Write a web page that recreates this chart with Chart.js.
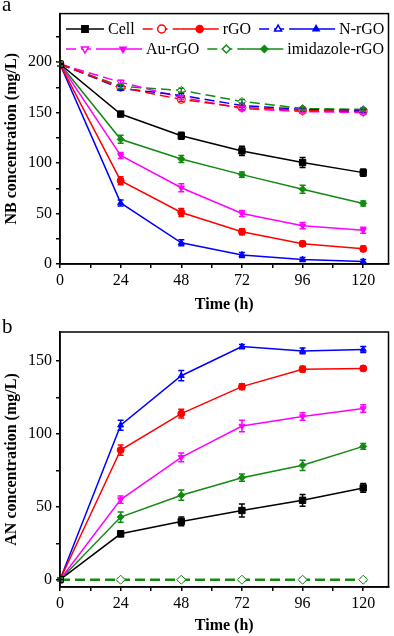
<!DOCTYPE html>
<html>
<head>
<meta charset="utf-8">
<script src="https://cdn.jsdelivr.net/npm/chart.js@4"></script>
<style>
body{margin:0;background:#fff;width:394px;height:636px;position:relative;overflow:hidden;font-family:'Liberation Serif',serif}
.box{position:absolute;left:0;width:394px;height:318px}
.lab{position:absolute;left:2px;font-size:21px;line-height:24px;color:#000}
</style>
</head>
<body>
<div class="box" style="top:0"><canvas id="chartA"></canvas></div>
<div class="box" style="top:318px"><canvas id="chartB"></canvas></div>
<div class="lab" style="top:-8px">a</div>
<div class="lab" style="top:314px">b</div>
<script>
// sampling times (h)
const hours = [0, 24, 48, 72, 96, 120];
const xTicks = [0, 12, 24, 36, 48, 60, 72, 84, 96, 108, 120];
const yTicksA = [0, 25, 50, 75, 100, 125, 150, 175, 200, 225];
const yTicksB = [0, 25, 50, 75, 100, 125, 150];

// a: NB concentration (mg/L)
const nbCell   = [198, 148.5, 127, 112, 100.5, 90.5];
const nbRGO    = [198, 82.5, 51, 32, 20, 15];
const nbNRGO   = [198, 60.5, 21, 9, 4.5, 2.5];
const nbAuRGO  = [198, 107.5, 75.5, 50, 38, 33.5];
const nbImRGO  = [198, 123.5, 104, 88.5, 74, 60];
const nbRGOc   = [198, 175, 163, 155, 152, 151];
const nbNRGOc  = [198, 174, 167, 157, 153, 152];
const nbAuRGOc = [198, 180, 165, 154, 151, 150];
const nbImRGOc = [198, 176, 172, 161, 154, 153];

const nbCellErr  = [2, 2.5, 3.5, 4.5, 5, 3.5];
const nbRGOErr   = [2, 4, 4, 3, 2.5, 2.5];
const nbNRGOErr  = [2, 3, 3, 2.5, 2, 2];
const nbAuRGOErr = [2, 3, 4, 3, 3, 3];
const nbImRGOErr = [2, 4, 3.5, 2.5, 4, 2.5];
const nbCtrlErr  = [2, 2, 2, 2, 1.5, 1.5];

// b: AN concentration (mg/L)
const anCell   = [0, 31.5, 40, 47.5, 54.5, 63];
const anRGO    = [0, 89, 114, 132.5, 144.5, 145];
const anNRGO   = [0, 106, 140, 160, 157, 158];
const anAuRGO  = [0, 55, 84, 105.5, 112, 117.5];
const anImRGO  = [0, 43, 58, 70, 78.5, 91.5];
const anCtrl   = [0, 0, 0, 0, 0, 0];

const anCellErr  = [1, 2, 3, 4.5, 4, 3];
const anRGOErr   = [1, 3.5, 3, 2, 2, 1.5];
const anNRGOErr  = [1, 3.5, 3.5, 1.5, 2, 2];
const anAuRGOErr = [1, 2.5, 3, 4, 2.5, 2.5];
const anImRGOErr = [1, 3.5, 3.5, 2.5, 3.5, 2];
const anCtrlErr  = [0, 0, 0, 0, 0, 0];

const BLACK = '#000000', RED = '#ff0000', BLUE = '#0000ff', MAG = '#ff00ff', GREEN = '#128a12';
const FONT = "'Liberation Serif', 'Times New Roman', serif";
Chart.defaults.font.family = FONT;
Chart.defaults.color = '#000';

function pts(vals) {
  return vals.map((v, i) => ({x: hours[i], y: v}));
}
function solid(label, vals, err, color, style, rot) {
  return {
    label: label, data: pts(vals), errors: err, order: 1,
    borderColor: color, backgroundColor: color,
    borderWidth: 1.5, pointStyle: style, pointRotation: rot || 0,
    pointRadius: style === 'rect' ? 4.5 : 3.5, pointBorderWidth: 1,
    pointBackgroundColor: color, pointBorderColor: color, tension: 0
  };
}
function ctrl(vals, err, color, style, rot, order, radius, width) {
  return {
    label: '', data: pts(vals), errors: err, order: order || 2,
    borderColor: color, backgroundColor: '#fff',
    borderWidth: width || 1.5, borderDash: [10, 5], pointStyle: style, pointRotation: rot || 0,
    pointRadius: radius || 4, pointBorderWidth: 1,
    pointBackgroundColor: '#fff', pointBorderColor: color, tension: 0
  };
}

// error bars drawn through the chart scales
const errorBars = {
  id: 'errorBars',
  afterDatasetsDraw(chart) {
    const ctx = chart.ctx, xs = chart.scales.x, ys = chart.scales.y;
    ctx.save();
    chart.data.datasets.forEach(ds => {
      if (!ds.errors) return;
      ctx.strokeStyle = ds.borderColor;
      ctx.lineWidth = 1.5;
      ctx.setLineDash([]);
      ds.data.forEach((p, i) => {
        const e = ds.errors[i];
        if (!e) return;
        const x = xs.getPixelForValue(p.x);
        const y1 = ys.getPixelForValue(p.y - e), y2 = ys.getPixelForValue(p.y + e);
        ctx.beginPath();
        ctx.moveTo(x, y1); ctx.lineTo(x, y2);
        ctx.moveTo(x - 3, y1); ctx.lineTo(x + 3, y1);
        ctx.moveTo(x - 3, y2); ctx.lineTo(x + 3, y2);
        ctx.stroke();
      });
    });
    ctx.restore();
  }
};

// box around the plot area
const frame = {
  id: 'frame',
  afterDraw(chart) {
    const a = chart.chartArea, ctx = chart.ctx;
    ctx.save();
    ctx.strokeStyle = '#000';
    ctx.lineWidth = 1.5;
    ctx.strokeRect(a.left, a.top, a.right - a.left, a.bottom - a.top);
    ctx.restore();
  }
};

// legend: dashed (control) sample followed by solid sample and name
const legendRows = [
  [[0], [5, 1], [6, 2]],
  [[7, 3], [8, 4]]
];
const legendA = {
  id: 'legendA',
  afterDraw(chart) {
    const ctx = chart.ctx, ds = chart.data.datasets;
    const segW = 38, rowY = [29, 49];
    ctx.save();
    ctx.font = '16px ' + FONT;
    ctx.textBaseline = 'middle';
    legendRows.forEach((row, r) => {
      let x = 66;
      const y = rowY[r];
      row.forEach(group => {
        group.forEach(idx => {
          const d = ds[idx];
          ctx.strokeStyle = d.borderColor;
          ctx.lineWidth = 1.5;
          ctx.setLineDash(d.borderDash || []);
          ctx.beginPath(); ctx.moveTo(x, y); ctx.lineTo(x + segW, y); ctx.stroke();
          ctx.setLineDash([]);
          ctx.fillStyle = d.pointBackgroundColor;
          ctx.strokeStyle = d.pointBorderColor;
          Chart.helpers.drawPoint(ctx, {pointStyle: d.pointStyle, radius: d.pointRadius,
            rotation: d.pointRotation, borderWidth: 1}, x + segW / 2, y);
          x += segW;
        });
        const label = ds[group[group.length - 1]].label;
        ctx.fillStyle = '#000';
        ctx.fillText(label, x + 4, y + 1);
        x += 4 + ctx.measureText(label).width + 8;
      });
    });
    ctx.restore();
  }
};

function makeChart(id, datasets, yTitle, yMin, yMax, yTicks, topPad, xHeight, xTitlePad, plugins) {
  return new Chart(document.getElementById(id), {
    type: 'line',
    data: {datasets: datasets},
    plugins: plugins,
    options: {
      responsive: true, maintainAspectRatio: false, animation: false,
      layout: {padding: {top: topPad, right: 3, left: 0, bottom: 0}},
      plugins: {legend: {display: false}, tooltip: {enabled: false}},
      scales: {
        x: {
          type: 'linear', min: 0, max: 130,
          afterBuildTicks: s => { s.ticks = xTicks.map(v => ({value: v})); },
          afterFit: s => { s.height = xHeight; },
          ticks: {autoSkip: false, maxRotation: 0, padding: 3,
            font: {size: 16}, color: '#000',
            callback: v => (v % 24 === 0 ? v : '')},
          grid: {drawOnChartArea: false, drawTicks: true, tickLength: 4, color: '#000', lineWidth: 1.5},
          border: {display: true, color: '#000', width: 1.5},
          title: {display: true, text: 'Time (h)', font: {size: 16, weight: 'bold'},
            color: '#000', padding: {top: 0, bottom: xTitlePad}}
        },
        y: {
          type: 'linear', min: yMin, max: yMax,
          afterBuildTicks: s => { s.ticks = yTicks.map(v => ({value: v})); },
          afterFit: s => { s.width = 60; },
          ticks: {autoSkip: false, padding: 4, font: {size: 16}, color: '#000',
            callback: v => (v % 50 === 0 ? v : '')},
          grid: {drawOnChartArea: false, drawTicks: true, tickLength: 4, color: '#000', lineWidth: 1.5},
          border: {display: true, color: '#000', width: 1.5},
          title: {display: true, text: yTitle, font: {size: 16, weight: 'bold'},
            color: '#000', padding: {top: 2, bottom: 0}}
        }
      }
    }
  });
}

// panel a (legend indices refer to this order)
const dsA = [
  solid('Cell', nbCell, nbCellErr, BLACK, 'rect'),
  solid('rGO', nbRGO, nbRGOErr, RED, 'circle'),
  solid('N-rGO', nbNRGO, nbNRGOErr, BLUE, 'triangle'),
  solid('Au-rGO', nbAuRGO, nbAuRGOErr, MAG, 'triangle', 180),
  solid('imidazole-rGO', nbImRGO, nbImRGOErr, GREEN, 'rectRot'),
  ctrl(nbRGOc, nbCtrlErr, RED, 'circle'),
  ctrl(nbNRGOc, nbCtrlErr, BLUE, 'triangle'),
  ctrl(nbAuRGOc, nbCtrlErr, MAG, 'triangle', 180),
  ctrl(nbImRGOc, nbCtrlErr, GREEN, 'rectRot')
];
makeChart('chartA', dsA, 'NB concentration (mg/L)', 0, 248, yTicksA, 13, 54, 4, [errorBars, frame, legendA]);

// panel b: the green control lies on top of the other controls (lowest order)
const dsB = [
  solid('Cell', anCell, anCellErr, BLACK, 'rect'),
  solid('rGO', anRGO, anRGOErr, RED, 'circle'),
  solid('N-rGO', anNRGO, anNRGOErr, BLUE, 'triangle'),
  solid('Au-rGO', anAuRGO, anAuRGOErr, MAG, 'triangle', 180),
  solid('imidazole-rGO', anImRGO, anImRGOErr, GREEN, 'rectRot'),
  ctrl(anCtrl, anCtrlErr, RED, 'circle', 0, 5, 2.5, 1),
  ctrl(anCtrl, anCtrlErr, BLUE, 'triangle', 0, 4, 3.5, 1),
  ctrl(anCtrl, anCtrlErr, MAG, 'triangle', 180, 3, 3.5, 1),
  ctrl(anCtrl, anCtrlErr, GREEN, 'rectRot', 0, 0, 4.5, 2.5)
];
makeChart('chartB', dsB, 'AN concentration (mg/L)', -5, 170, yTicksB, 14, 49, 1, [errorBars, frame]);
</script>
</body>
</html>
